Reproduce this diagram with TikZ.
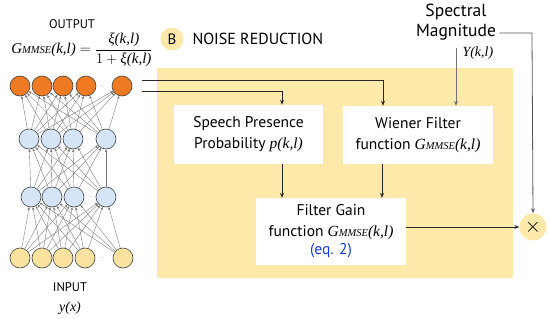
\documentclass[tikz,border=0pt]{standalone}
\usepackage{amsmath}
\usepackage{fontspec}
\setmainfont{PT Sans}
\newfontfamily\serifit{Liberation Serif}
\usetikzlibrary{arrows.meta,positioning,calc}
\definecolor{NRyellow}{RGB}{253,234,170}
\definecolor{NNorange}{RGB}{240,122,34}
\definecolor{NNblue}  {RGB}{214,228,247}
\definecolor{NNin}    {RGB}{251,226,158}
\definecolor{EQblue}  {RGB}{20,60,230}
\newcommand{\gmmse}{{\serifit\itshape G{\fontsize{10.5}{10.5}\selectfont MMSE}(k,l)}}
\newcommand{\xikl}{{\serifit\itshape ξ(k,l)}}

\begin{document}
\begin{tikzpicture}[x=1pt,y=-1pt,
  neuron/.style={draw=black!75, circle, inner sep=0pt, minimum size=20pt, line width=0.6pt},
  link/.style={draw=black!55, line width=0.35pt, -{Stealth[length=3pt,width=2.4pt]}},
  arr/.style={draw=black!85, line width=0.8pt, -{Stealth[length=5pt,width=4pt]}},
  box/.style={fill=white, inner sep=0pt, align=center, font=\fontsize{15.5}{21}\selectfont},
  dots/.style={text=black!50, font=\tiny, inner sep=0pt}]
\useasboundingbox (0,0) rectangle (550,319);
% noise reduction block
\fill[NRyellow] (157,68) rectangle (513,278);
\node[circle, fill=NRyellow, minimum size=23pt, inner sep=0pt, font=\fontsize{15}{15}\selectfont] (B) at (172,39) {B};
\node[anchor=west, font=\fontsize{16}{16}\selectfont] (title) at (189,39) {NOISE REDUCTION};
\node[box, minimum width=149pt, minimum height=59pt] (spp) at (248.5,134.5) {Speech Presence\\Probability {\serifit\itshape p(k,l)}};
\node[box, minimum width=150pt, minimum height=58pt] (wf) at (418,135) {Wiener Filter\\function \gmmse};
\node[box, minimum width=150pt, minimum height=67pt] (fg) at (331,231.5) {Filter Gain\\function \gmmse\\[-3pt]\textcolor{EQblue}{(eq. 2)}};
\node[circle, fill=NRyellow, minimum size=27pt, inner sep=0pt, font=\fontsize{20}{20}\selectfont] (mult) at (533,227) {$\times$};
\node[align=center, font=\fontsize{17.5}{20}\selectfont] (spec) at (456,22) {Spectral\\Magnitude};
\coordinate (ytop) at (456,48);
\node[anchor=west, font=\fontsize{14}{14}\selectfont] (ylab) at (459,53) {\serifit\itshape Y(k,l)};
% network
\foreach \x [count=\n] in {20,42,63,86,122} \node[neuron, fill=NNorange] (o\n) at (\x,86) {};
\foreach \x [count=\n] in {29,51,73,106} \node[neuron, fill=NNblue] (h\n) at (\x,139) {};
\foreach \x [count=\n] in {31,52,74,106} \node[neuron, fill=NNblue] (g\n) at (\x,197) {};
\foreach \x [count=\n] in {20,42,63,85,123} \node[neuron, fill=NNin] (i\n) at (\x,258) {};
\node[dots] at (102,86) {...};
\node[dots] at (91,197) {...};
\node[dots] at (102,258) {...};
\foreach \a in {1,...,4} \foreach \b in {1,...,5} \draw[link] (h\a) -- (o\b);
\foreach \a in {1,...,4} \foreach \b in {1,...,4} \draw[link] (g\a) -- (h\b);
\foreach \a in {1,...,5} \foreach \b in {1,...,4} \draw[link] (i\a) -- (g\b);
\node[font=\fontsize{12.5}{12.5}\selectfont] (outlab) at (72,24) {OUTPUT};
\node[font=\fontsize{15}{15}\selectfont, inner sep=0pt] (eq) at (82,50) {\gmmse\ $=\dfrac{\text{\xikl}}{1+\text{\xikl}}$};
\node[font=\fontsize{12.5}{12.5}\selectfont] (inlab) at (70,287) {INPUT};
\node[font=\fontsize{14}{14}\selectfont] (yx) at (70,308) {\serifit\itshape y(x)};
% connectors
\coordinate (oa) at (142,80);
\coordinate (ob) at (142,91);
\draw[arr] (oa) -| ([xshift=-35pt]wf.north);
\draw[arr] (ob) -| ([xshift=33.5pt]spp.north);
\draw[arr, draw=black!55] (ytop) -- (ytop |- wf.north);
\draw[arr] ([xshift=33.5pt]spp.south) -- ([xshift=33.5pt]spp.south |- fg.north);
\draw[arr] ([xshift=-36pt]wf.south) -- ([xshift=-36pt]wf.south |- fg.north);
\draw[arr] (fg.east |- mult) -- (mult.west);
\draw[arr, draw=black!65] (spec.east |- 0,33) -- (532,33) -- (mult.north);
\end{tikzpicture}
\end{document}
